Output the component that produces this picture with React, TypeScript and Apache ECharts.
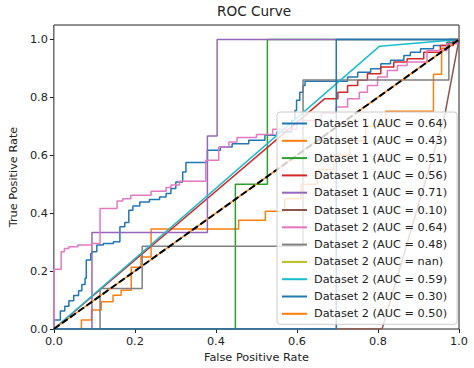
import React, { useEffect, useRef } from "react";
import * as echarts from "echarts";

const FONT = "DejaVu Sans";

const seriesNames = [
  "Dataset 1 (AUC = 0.64)",
  "Dataset 1 (AUC = 0.43)",
  "Dataset 1 (AUC = 0.51)",
  "Dataset 1 (AUC = 0.56)",
  "Dataset 1 (AUC = 0.71)",
  "Dataset 1 (AUC = 0.10)",
  "Dataset 2 (AUC = 0.64)",
  "Dataset 2 (AUC = 0.48)",
  "Dataset 2 (AUC = nan)",
  "Dataset 2 (AUC = 0.59)",
  "Dataset 2 (AUC = 0.30)",
  "Dataset 2 (AUC = 0.50)",
];

const seriesColors = [
  "#1f77b4", "#ff7f0e", "#2ca02c", "#d62728", "#9467bd", "#8c564b",
  "#e377c2", "#7f7f7f", "#bcbd22", "#17becf", "#1f77b4", "#ff7f0e",
];

const xTicks = [0, 0.2, 0.4, 0.6, 0.8, 1.0];
const yTicks = [0, 0.2, 0.4, 0.6, 0.8, 1.0];

// ROC points [fpr, tpr]
const d1Auc064: number[][] = [
  [0, 0], [0, 0.031], [0.016, 0.031], [0.016, 0.062], [0.027, 0.062], [0.027, 0.079],
  [0.037, 0.079], [0.037, 0.098], [0.049, 0.098], [0.049, 0.116], [0.061, 0.116], [0.061, 0.132],
  [0.069, 0.132], [0.069, 0.154], [0.077, 0.154], [0.077, 0.175], [0.08, 0.175], [0.08, 0.238],
  [0.091, 0.238], [0.091, 0.261], [0.094, 0.261], [0.094, 0.267], [0.106, 0.267], [0.106, 0.29],
  [0.122, 0.29], [0.122, 0.295], [0.147, 0.295], [0.147, 0.301], [0.163, 0.301], [0.163, 0.353],
  [0.175, 0.353], [0.175, 0.368], [0.185, 0.368], [0.185, 0.41], [0.195, 0.41], [0.195, 0.425],
  [0.212, 0.425], [0.212, 0.439], [0.236, 0.439], [0.236, 0.447], [0.261, 0.447], [0.261, 0.456],
  [0.277, 0.456], [0.277, 0.468], [0.289, 0.468], [0.289, 0.485], [0.301, 0.485], [0.301, 0.508],
  [0.318, 0.508], [0.318, 0.542], [0.326, 0.542], [0.326, 0.575], [0.379, 0.575], [0.379, 0.617],
  [0.411, 0.617], [0.411, 0.629], [0.44, 0.629], [0.44, 0.64], [0.481, 0.64], [0.481, 0.652],
  [0.521, 0.652], [0.521, 0.669], [0.55, 0.669], [0.55, 0.68], [0.587, 0.68], [0.587, 0.72],
  [0.595, 0.72], [0.595, 0.755], [0.599, 0.755], [0.599, 0.79], [0.607, 0.79], [0.607, 0.818],
  [0.615, 0.818], [0.615, 0.841], [0.62, 0.841], [0.62, 0.856], [0.725, 0.856], [0.725, 0.87],
  [0.75, 0.87], [0.75, 0.887], [0.782, 0.887], [0.782, 0.899], [0.807, 0.899], [0.807, 0.916],
  [0.831, 0.916], [0.831, 0.928], [0.864, 0.928], [0.864, 0.945], [0.88, 0.945], [0.88, 0.956],
  [0.905, 0.956], [0.905, 0.968], [0.937, 0.968], [0.937, 0.979], [0.97, 0.979], [0.97, 0.99],
  [1, 0.99], [1, 1],
];

const d1Auc043: number[][] = [
  [0, 0], [0.068, 0], [0.068, 0.031], [0.093, 0.031], [0.093, 0.066], [0.117, 0.066],
  [0.117, 0.094], [0.146, 0.094], [0.146, 0.117], [0.166, 0.117], [0.166, 0.134], [0.191, 0.134],
  [0.191, 0.213], [0.215, 0.213], [0.215, 0.249], [0.24, 0.249], [0.24, 0.345], [0.456, 0.345],
  [0.456, 0.376], [0.522, 0.376], [0.522, 0.407], [0.57, 0.407], [0.57, 0.45], [0.61, 0.45],
  [0.61, 0.5], [0.65, 0.5], [0.65, 0.55], [0.69, 0.55], [0.69, 0.6], [0.73, 0.6],
  [0.73, 0.65], [0.77, 0.65], [0.77, 0.7], [0.819, 0.7], [0.819, 0.752], [0.937, 0.752],
  [0.937, 0.88], [0.957, 0.88], [0.957, 0.97], [0.975, 0.97], [0.975, 1], [1, 1],
];

const d1Auc051: number[][] = [
  [0, 0], [0.448, 0], [0.448, 0.5], [0.527, 0.5], [0.527, 1], [1, 1],
];

const d1Auc056: number[][] = [
  [0, 0], [0.668, 0.795], [0.701, 0.795], [0.701, 0.818], [0.725, 0.818], [0.725, 0.841],
  [0.75, 0.841], [0.75, 0.859], [0.774, 0.859], [0.774, 0.882], [0.807, 0.882], [0.807, 0.905],
  [0.839, 0.905], [0.839, 0.922], [0.872, 0.922], [0.872, 0.933], [0.913, 0.933], [0.913, 0.956],
  [0.954, 0.956], [0.954, 0.979], [0.986, 0.979], [0.986, 0.997], [1, 1],
];

const d1Auc071: number[][] = [
  [0, 0], [0.094, 0], [0.094, 0.333], [0.379, 0.333], [0.379, 0.667], [0.403, 0.667],
  [0.403, 1], [1, 1],
];

const d1Auc010: number[][] = [
  [0, 0], [0.81, 0], [0.965, 0.74], [1, 1],
];

const d2Auc064: number[][] = [
  [0, 0], [0, 0.206], [0.018, 0.206], [0.018, 0.267], [0.026, 0.267], [0.026, 0.278],
  [0.037, 0.278], [0.037, 0.284], [0.059, 0.284], [0.059, 0.29], [0.093, 0.29], [0.093, 0.295],
  [0.114, 0.295], [0.114, 0.416], [0.156, 0.416], [0.156, 0.442], [0.17, 0.442], [0.17, 0.45],
  [0.19, 0.45], [0.19, 0.462], [0.24, 0.462], [0.24, 0.476], [0.277, 0.476], [0.277, 0.489],
  [0.289, 0.489], [0.289, 0.497], [0.31, 0.497], [0.31, 0.51], [0.375, 0.51], [0.375, 0.583],
  [0.407, 0.583], [0.407, 0.629], [0.432, 0.629], [0.432, 0.646], [0.452, 0.646], [0.452, 0.661],
  [0.5, 0.661], [0.5, 0.672], [0.54, 0.672], [0.54, 0.69], [0.6, 0.69], [0.6, 0.72],
  [0.66, 0.72], [0.66, 0.745], [0.697, 0.745], [0.697, 0.767], [0.725, 0.767], [0.725, 0.795],
  [0.754, 0.795], [0.754, 0.818], [0.774, 0.818], [0.774, 0.841], [0.799, 0.841], [0.799, 0.87],
  [0.823, 0.87], [0.823, 0.893], [0.848, 0.893], [0.848, 0.91], [0.872, 0.91], [0.872, 0.922],
  [0.921, 0.922], [0.921, 0.962], [0.97, 0.962], [0.97, 0.985], [0.995, 0.985], [0.995, 1],
  [1, 1],
];

const d2Auc048: number[][] = [
  [0, 0], [0.114, 0], [0.114, 0.14], [0.218, 0.14], [0.218, 0.286], [0.615, 0.286],
  [0.615, 0.86], [0.975, 0.86], [0.975, 1], [1, 1],
];

const d2AucNan: number[][] = [];

const d2Auc059: number[][] = [
  [0, 0], [0.804, 0.977], [1, 1],
];

const d2Auc030: number[][] = [
  [0, 0], [0.697, 0], [0.697, 1], [1, 1],
];

const d2Auc050: number[][] = [
  [0, 0], [1, 1],
];

const chanceLine: number[][] = [
  [0, 0], [1, 1],
];

const curves = [
  d1Auc064, d1Auc043, d1Auc051, d1Auc056, d1Auc071, d1Auc010,
  d2Auc064, d2Auc048, d2AucNan, d2Auc059, d2Auc030, d2Auc050,
];

export default function App() {
  const ref = useRef<HTMLDivElement>(null);

  useEffect(() => {
    if (!ref.current) return;
    const chart = echarts.init(ref.current, null, { renderer: "svg" });

    const series: any[] = curves.map((data, i) => ({
      type: "line",
      name: seriesNames[i],
      data,
      showSymbol: false,
      symbol: "none",
      color: seriesColors[i],
      itemStyle: { color: seriesColors[i] },
      lineStyle: { color: seriesColors[i], width: 1.5 },
      z: 2,
    }));
    series.push({
      type: "line",
      name: "chance",
      data: chanceLine,
      showSymbol: false,
      symbol: "none",
      lineStyle: { color: "#000", width: 2, type: [7, 3] },
      z: 3,
    });

    const tickLabel = {
      fontFamily: FONT,
      fontSize: 11.3,
      color: "#222",
    };

    chart.setOption({
      animation: false,
      backgroundColor: "#fff",
      title: {
        text: "ROC Curve",
        left: 217,
        top: 4,
        padding: 0,
        textStyle: {
          fontFamily: FONT,
          fontSize: 13.6,
          fontWeight: "normal",
          color: "#222",
        },
      },
      grid: {
        left: 50,
        right: 15,
        top: 25,
        bottom: 39,
        show: true,
        borderColor: "#222",
        borderWidth: 1,
        backgroundColor: "transparent",
      },
      legend: {
        data: seriesNames,
        orient: "vertical",
        left: 277,
        top: 112,
        padding: [5, 10, 4, 5],
        itemGap: 4.3,
        itemWidth: 25,
        itemHeight: 2,
        icon: "rect",
        backgroundColor: "rgba(255,255,255,0.8)",
        borderColor: "#ccc",
        borderWidth: 1,
        borderRadius: 3,
        textStyle: {
          fontFamily: FONT,
          fontSize: 11.3,
          lineHeight: 13,
          color: "#222",
          padding: [0, 0, 0, 2],
        },
        z: 10,
      },
      xAxis: {
        type: "value",
        min: 0,
        max: 1,
        name: "False Positive Rate",
        nameLocation: "middle",
        nameGap: 21,
        nameTextStyle: { fontFamily: FONT, fontSize: 11.3, color: "#222" },
        axisLine: { show: false },
        splitLine: { show: false },
        axisTick: {
          show: true,
          inside: false,
          length: 4,
          customValues: xTicks,
          lineStyle: { color: "#222" },
        },
        axisLabel: {
          ...tickLabel,
          margin: 7,
          customValues: xTicks,
          formatter: (v: number) => v.toFixed(1),
        },
      },
      yAxis: {
        type: "value",
        min: 0,
        max: 1.05,
        name: "True Positive Rate",
        nameLocation: "middle",
        nameGap: 29,
        nameTextStyle: { fontFamily: FONT, fontSize: 11.3, color: "#222" },
        axisLine: { show: false },
        splitLine: { show: false },
        axisTick: {
          show: true,
          inside: false,
          length: 4,
          customValues: yTicks,
          lineStyle: { color: "#222" },
        },
        axisLabel: {
          ...tickLabel,
          margin: 6,
          customValues: yTicks,
          formatter: (v: number) => v.toFixed(1),
        },
      },
      series,
    });

    return () => chart.dispose();
  }, []);

  return (
    <div
      ref={ref}
      style={{ position: "fixed", left: 0, top: 0, width: 474, height: 368 }}
    />
  );
}
